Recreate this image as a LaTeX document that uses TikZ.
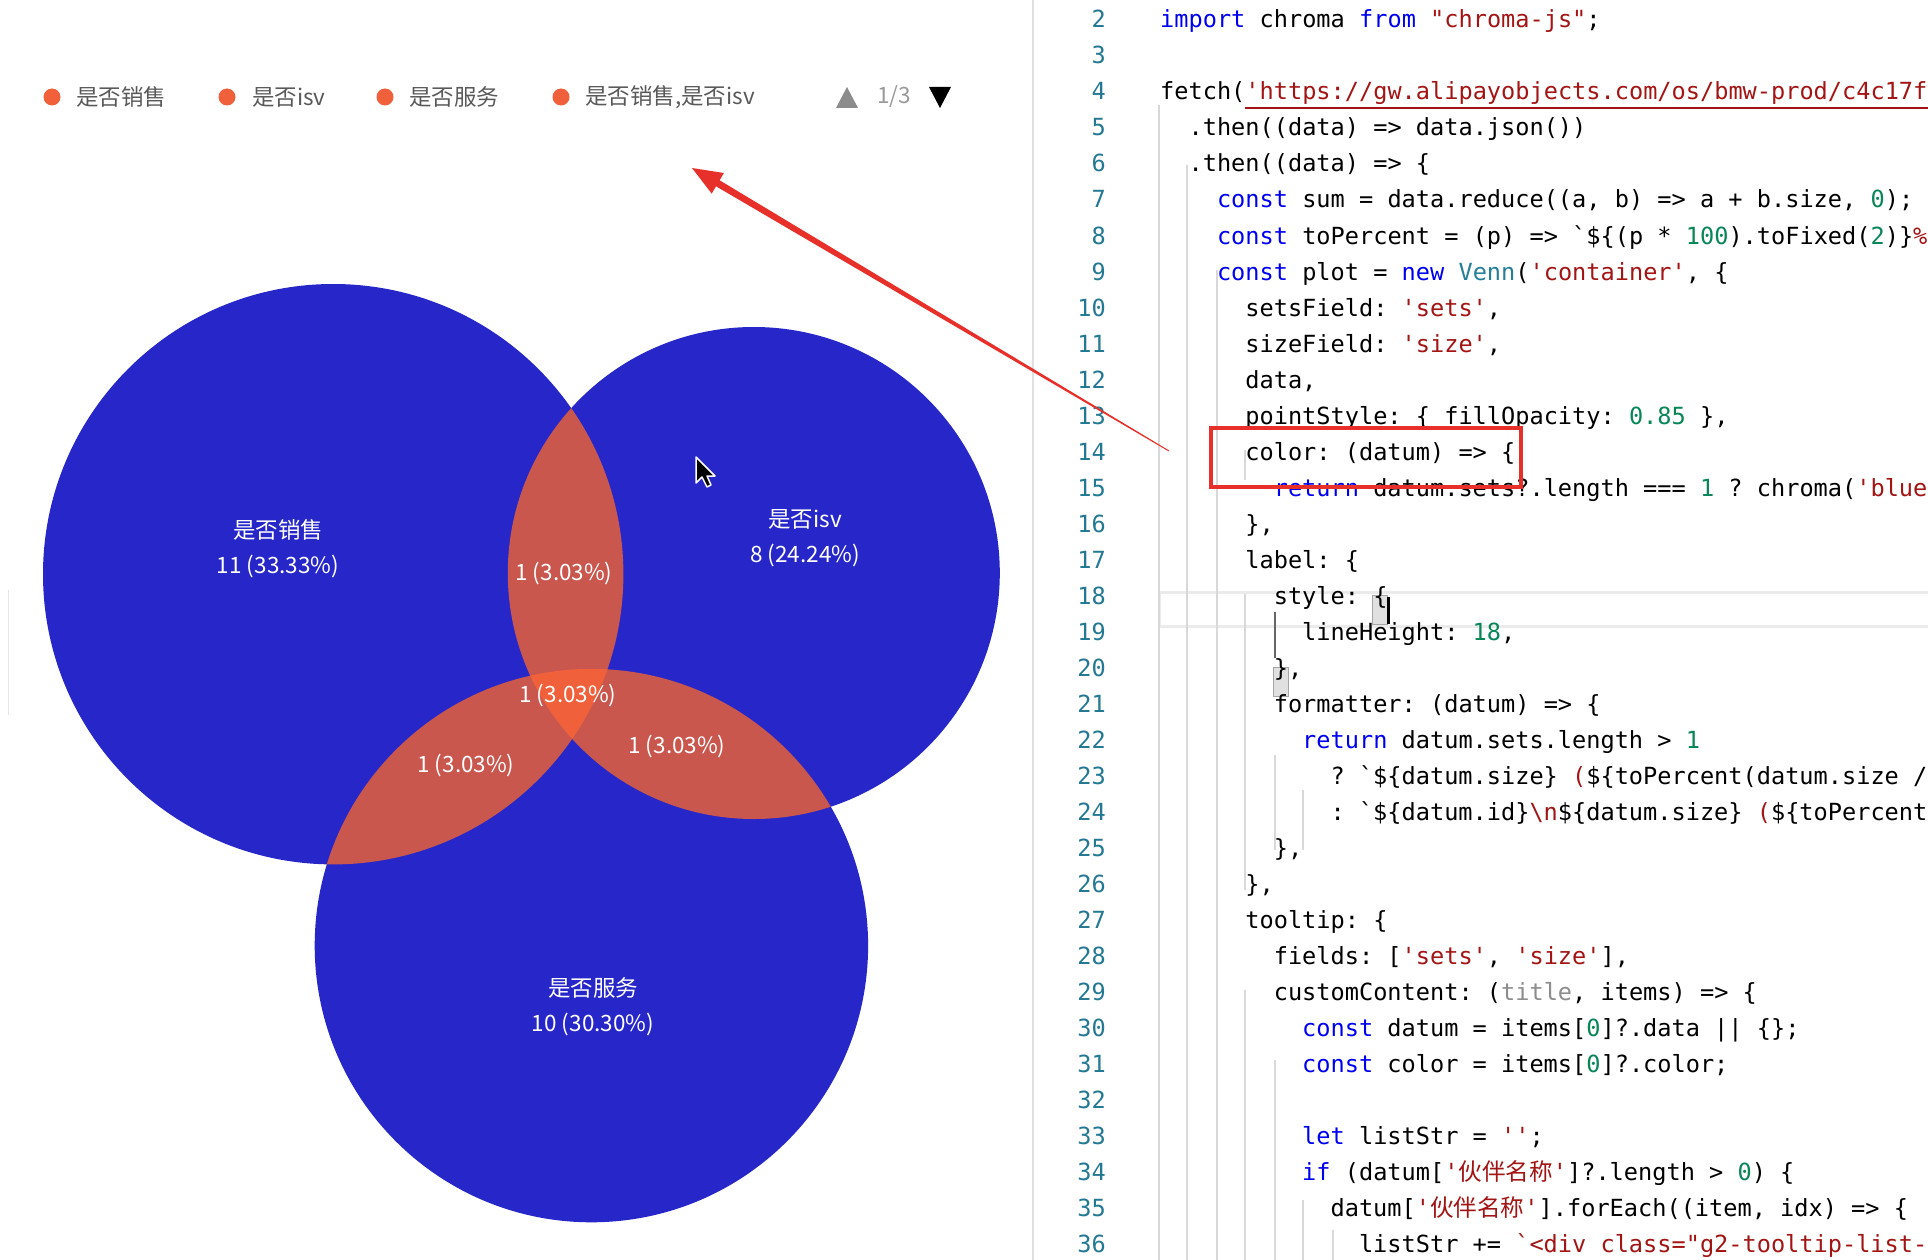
\documentclass[tikz,border=0pt]{standalone}
\usepackage{fontspec}
\setmainfont{Noto Sans CJK SC}
\newfontfamily\cjk{Noto Sans CJK SC}
\newfontfamily\codef{DejaVu Sans Mono}
\definecolor{vblue}{HTML}{2727C9}
\definecolor{vred}{HTML}{C9574E}
\definecolor{vorg}{HTML}{F0603A}
\definecolor{kw}{HTML}{0000F0}
\definecolor{str}{HTML}{A31515}
\definecolor{num}{HTML}{098658}
\definecolor{typ}{HTML}{267F99}
\definecolor{lnum}{HTML}{237893}
\definecolor{guide}{HTML}{D8D8D8}
\definecolor{annot}{HTML}{E8302A}
\newcommand\K[1]{\textcolor{kw}{#1}}
\newcommand\Sx[1]{\textcolor{str}{#1}}
\newcommand\Nm[1]{\textcolor{num}{#1}}
\newcommand\q{\symbol{39}}
\newcommand\bq{\symbol{96}}
\newcommand\dq{\symbol{34}}
\frenchspacing
\tikzset{
  codetxt/.style={font=\codef\frenchspacing\fontsize{23.6}{28}\selectfont, anchor=base west, inner sep=0pt, text=black},
  lnumtxt/.style={font=\codef\fontsize{23.6}{28}\selectfont, anchor=base east, inner sep=0pt, text=lnum},
  vlabel/.style={font=\fontsize{22.5}{26}\selectfont, text=white, inner sep=0pt, align=center},
  legtxt/.style={font=\fontsize{22.5}{26}\selectfont, text=black!65, anchor=west, inner sep=0pt},
  legdot/.style={circle, fill=vorg, inner sep=0pt, minimum size=17pt},
}
\newcommand\cl[3]{\node[codetxt] (c#1) at ({1160+14.2*#2},{28+36*(#1-2)}) {#3};}
\begin{document}
\begin{tikzpicture}[x=1pt,y=-1pt]
\useasboundingbox (0,0) rectangle (1928,1260);
\fill[white] (0,0) rectangle (1928,1260);
% separator
\draw[black!12, line width=1.5pt] (1033,0) -- (1033,1260);
\draw[black!10, line width=1pt] (8,590) -- (8,715);
% Venn
\def\cA{(333.2,574.2) circle (290.2)}
\def\cB{(753.8,573) circle (246)}
\def\cC{(591.4,945.6) circle (276.7)}
\fill[vblue] \cA; \fill[vblue] \cB; \fill[vblue] \cC;
\begin{scope}\clip \cA; \fill[vred] \cB; \fill[vred] \cC;\end{scope}
\begin{scope}\clip \cB; \fill[vred] \cC;\end{scope}
\begin{scope}\clip \cA; \clip \cB; \fill[vorg] \cC;\end{scope}
\node[vlabel] (la) at (278,549) {是否销售\\[9pt]11 (33.33\%)};
\node[vlabel] (lb) at (805,538) {是否isv\\[9pt]8 (24.24\%)};
\node[vlabel] (lc) at (593,1007) {是否服务\\[9pt]10 (30.30\%)};
\node[vlabel] (ab) at (564,573) {1 (3.03\%)};
\node[vlabel] (abc) at (568,695) {1 (3.03\%)};
\node[vlabel] (ac) at (466,765) {1 (3.03\%)};
\node[vlabel] (bc) at (677,746) {1 (3.03\%)};
% legend
\node[legdot] (d1) at (52,97) {}; \node[legtxt] (t1) at (76,97) {是否销售};
\node[legdot] (d2) at (227,97) {}; \node[legtxt] (t2) at (252,97) {是否isv};
\node[legdot] (d3) at (385,97) {}; \node[legtxt] (t3) at (409,97) {是否服务};
\node[legdot] (d4) at (561,97) {}; \node[legtxt] (t4) at (585,97) {是否销售,是否isv};
\fill[black!45] (836,108) -- (858,108) -- (847,87) -- cycle;
\node[legtxt, text=black!40] (pg) at (877,97) {1/3};
\fill[black] (929,87) -- (951,87) -- (940,108) -- cycle;
% cursor
\draw[white, line width=1.5pt, fill=black, line join=round] (696,457) -- (696,483) -- (702,477) -- (707,487) -- (711,485) -- (707,476) -- (715,476) -- cycle;
% code
\begin{scope}
\clip (1034,0) rectangle (1928,1260);
% line 18 highlight
\draw[black!8, line width=3pt, fill=white] (1159,592) rectangle (1940,626);
% guides
\draw[guide, line width=1.5pt] (1159,105) -- (1159,1260);
\draw[guide, line width=1.5pt] (1187,165) -- (1187,1260);
\draw[guide, line width=1.5pt] (1217,270) -- (1217,1260);
\draw[guide, line width=1.5pt] (1245,450) -- (1245,480);
\draw[guide, line width=1.5pt] (1245,594) -- (1245,890);
\draw[guide, line width=1.5pt] (1245,990) -- (1245,1260);
\draw[black!60, line width=1.5pt] (1275,612) -- (1275,658);
\draw[guide, line width=1.5pt] (1275,755) -- (1275,850);
\draw[guide, line width=1.5pt] (1275,1060) -- (1275,1260);
\draw[guide, line width=1.5pt] (1303,790) -- (1303,850);
\draw[guide, line width=1.5pt] (1303,1200) -- (1303,1260);
\draw[guide, line width=1.5pt] (1333,1230) -- (1333,1260);
% bracket match
\fill[black!12] (1372,595) rectangle (1387,624);
\draw[black!35] (1372,595) rectangle (1387,624);
\fill[black!12] (1273,667) rectangle (1288,696);
\draw[black!35] (1273,667) rectangle (1288,696);
\foreach \n in {2,...,36}{\node[lnumtxt] (n\n) at (1106,{28+36*(\n-2)}) {\n};}
\cl{2}{0}{\K{import} chroma \K{from} \Sx{\dq chroma-js\dq};}
\cl{4}{0}{fetch(\Sx{\q https://gw.alipayobjects.com/os/bmw-prod/c4c17f}}
\draw[str, line width=1.5pt] (1245,44+36*2-8) -- (1940,44+36*2-8);
\cl{5}{2}{.then((data) => data.json())}
\cl{6}{2}{.then((data) => \{}
\cl{7}{4}{\K{const} sum = data.reduce((a, b) => a + b.size, \Nm{0});}
\cl{8}{4}{\K{const} toPercent = (p) => \bq\$\{(p * \Nm{100}).toFixed(\Nm{2})\}\Sx{\%\bq};}
\cl{9}{4}{\K{const} plot = \K{new} \textcolor{typ}{Venn}(\Sx{\q container\q}, \{}
\cl{10}{6}{setsField: \Sx{\q sets\q},}
\cl{11}{6}{sizeField: \Sx{\q size\q},}
\cl{12}{6}{data,}
\cl{13}{6}{pointStyle: \{ fillOpacity: \Nm{0.85} \},}
\cl{14}{6}{color: (datum) => \{}
\cl{15}{8}{\K{return} datum.sets?.length === \Nm{1} ? chroma(\Sx{\q blue\q})}
\cl{16}{6}{\},}
\cl{17}{6}{label: \{}
\cl{18}{8}{style: \{}
\fill[black] (1387,597) rectangle (1390,624);
\cl{19}{10}{lineHeight: \Nm{18},}
\cl{20}{8}{\},}
\cl{21}{8}{formatter: (datum) => \{}
\cl{22}{10}{\K{return} datum.sets.length > \Nm{1}}
\cl{23}{12}{? \bq\$\{datum.size\} \Sx{(}\$\{toPercent(datum.size / sum)\}\Sx{)\bq}}
\cl{24}{12}{: \bq\$\{datum.id\}\Sx{\textbackslash n}\$\{datum.size\} \Sx{(}\$\{toPercent(datum.size / sum)\}}
\cl{25}{8}{\},}
\cl{26}{6}{\},}
\cl{27}{6}{tooltip: \{}
\cl{28}{8}{fields: [\Sx{\q sets\q}, \Sx{\q size\q}],}
\cl{29}{8}{customContent: (\textcolor{black!45}{title}, items) => \{}
\cl{30}{10}{\K{const} datum = items[\Nm{0}]?.data || \{\};}
\cl{31}{10}{\K{const} color = items[\Nm{0}]?.color;}
\cl{33}{10}{\K{let} listStr = \Sx{\q\q};}
\cl{34}{10}{\K{if} (datum[\Sx{\q{\cjk 伙伴名称}\q}]?.length > \Nm{0}) \{}
\cl{35}{12}{datum[\Sx{\q{\cjk 伙伴名称}\q}].forEach((item, idx) => \{}
\cl{36}{14}{listStr += \Sx{\bq<div class=\dq g2-tooltip-list-item\dq>}}
\end{scope}
% annotation box
\draw[annot, line width=3.5pt] (1211,428) rectangle (1521,487);
% annotation arrow
\fill[annot] (1169.3,450.6) -- (719.6,180.3) -- (723.9,173.0) -- (692,168) -- (711.7,193.6) -- (716.0,186.3) -- (1168.7,451.4) -- cycle;
\end{tikzpicture}
\end{document}
